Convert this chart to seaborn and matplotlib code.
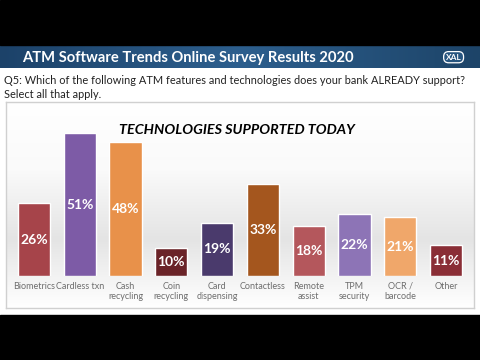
import numpy as np
import pandas as pd
import seaborn as sns
import matplotlib.pyplot as plt
from matplotlib.patches import Rectangle
from matplotlib.colors import LinearSegmentedColormap

# Données
categories = ["Biometrics", "Cardless txn", "Cash\nrecycling", "Coin\nrecycling", "Card\ndispensing",
              "Contactless", "Remote\nassist", "TPM\nsecurity", "OCR /\nbarcode", "Other"]
pourcentages = [26, 51, 48, 10, 19, 33, 18, 22, 21, 11]
couleurs = ["#A6444A", "#7D5BA6", "#E8914A", "#6A2328", "#4A3A6C",
            "#A4561E", "#B4575C", "#8D74B6", "#F0A76A", "#8A2E36"]

df = pd.DataFrame({"categorie": categories, "valeur": pourcentages})

sns.set_style("white")
plt.rcParams['font.family'] = ['Lato', 'DejaVu Sans']

W, H = 480, 360
fig = plt.figure(figsize=(4.8, 3.6), dpi=100)
fig.patch.set_facecolor("white")

def fx(px):
    return px / W

def fy(py):
    return 1 - py / H

# bandes noires haut / bas
fig.patches.append(Rectangle((0, fy(45)), 1, 45 / H, transform=fig.transFigure, color="black", zorder=0))
fig.patches.append(Rectangle((0, 0), 1, 45 / H, transform=fig.transFigure, color="black", zorder=0))

# bandeau de titre (dégradé bleu)
grad = np.linspace(0, 1, 256).reshape(1, -1)
ax_head = fig.add_axes([0, fy(68), 1, 23 / H])
ax_head.imshow(grad, aspect="auto", cmap=LinearSegmentedColormap.from_list(
    "hd", ["#1C4269", "#2D5F8E", "#1D4468"]), extent=[0, 1, 0, 1])
ax_head.axis("off")
ax_head.text(0.045, 0.45, "ATM Software Trends Online Survey Results 2020", color="white",
             fontsize=10.6, fontweight="bold", va="center", ha="left")
ax_head.text(0.945, 0.47, "XAL", color="white", fontsize=6, fontweight="bold", ha="center", va="center",
             bbox=dict(boxstyle="round,pad=0.25,rounding_size=0.6", fc="#27557F", ec="white", lw=0.9))

# question
fig.text(fx(4), fy(81), "Q5: Which of the following ATM features and technologies does your bank ALREADY support?",
         fontsize=7.9, color="#222222", va="center", ha="left")
fig.text(fx(4), fy(95), "Select all that apply.", fontsize=7.9, color="#222222", va="center", ha="left")

# cadre du graphique avec fond dégradé
ax_bg = fig.add_axes([fx(6), fy(308), fx(468), (308 - 102) / H])
vgrad = np.linspace(0, 1, 256).reshape(-1, 1)
ax_bg.imshow(vgrad, aspect="auto", cmap=LinearSegmentedColormap.from_list(
    "bg", ["#FFFFFF", "#FAFAFA", "#E4E4E4", "#FFFFFF"]), extent=[0, 1, 0, 1])
ax_bg.set_xticks([])
ax_bg.set_yticks([])
for s in ax_bg.spines.values():
    s.set_color("#D0D0D0")
    s.set_linewidth(1)

# axe des barres
base_px, top_px = 276, 110
ax = fig.add_axes([fx(11), fy(base_px), fx(458), (base_px - top_px) / H])
ax.patch.set_alpha(0)
sns.barplot(data=df, x="categorie", y="valeur", hue="categorie", palette=couleurs,
            legend=False, width=0.7, ax=ax, saturation=1)
ax.set_ylim(0, (base_px - top_px) / 2.8)
ax.set_xlim(-0.5, 9.5)
ax.set_yticks([])
ax.set_xlabel("")
ax.set_ylabel("")
ax.tick_params(axis="x", length=0, pad=4, labelsize=6.5, labelcolor="#6E6E6E")
for s in ax.spines.values():
    s.set_visible(False)

for i, v in enumerate(pourcentages):
    ax.text(i, v / 2, f"{v}%", color="white", fontsize=10, fontweight="bold",
            ha="center", va="center")

fig.text(0.494, fy(130), "TECHNOLOGIES SUPPORTED TODAY", fontsize=10.4, fontweight="bold",
         fontstyle="italic", ha="center", va="center", color="black")

plt.savefig("out.png", dpi=100)
